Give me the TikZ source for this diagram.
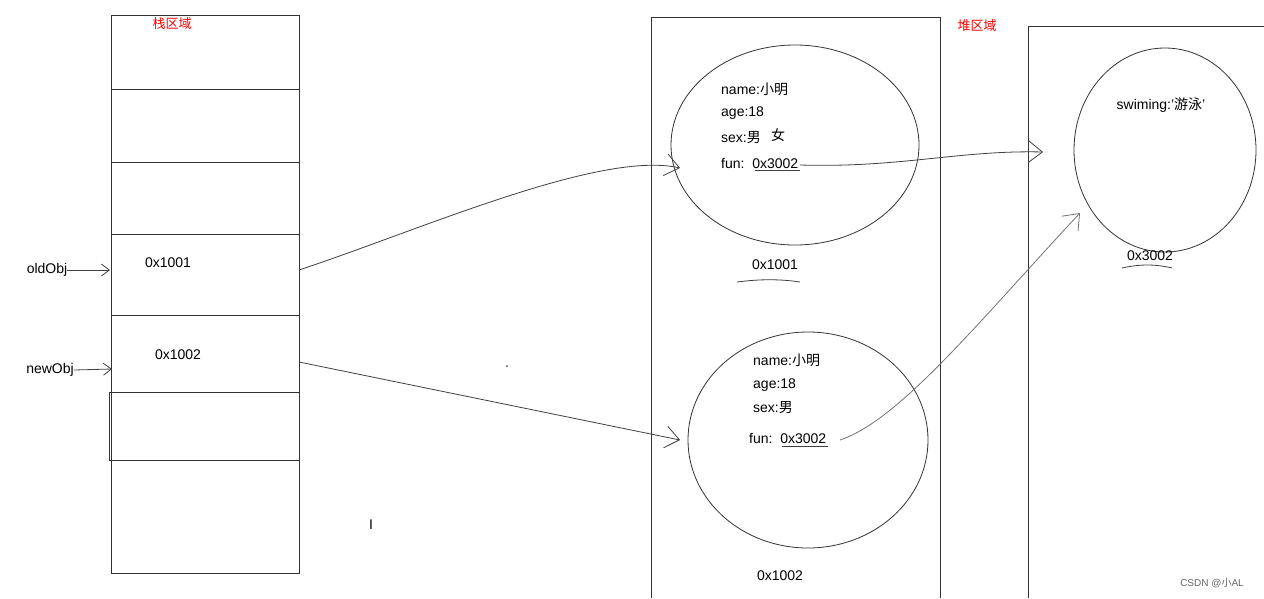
\documentclass[tikz,border=0pt]{standalone}
\usepackage{fontspec}
\setmainfont{Liberation Sans}
\newfontfamily\cjk{Noto Sans CJK SC}
\usetikzlibrary{arrows.meta}
\begin{document}
\begin{tikzpicture}[x=1pt,y=-1pt,
  box/.style={draw=black!80,line width=0.8pt},
  txt/.style={inner sep=0pt,font=\fontsize{14}{16}\selectfont},
  red/.style={inner sep=0pt,text=red,font=\cjk\fontsize{13}{15}\selectfont},
  conn/.style={draw=black!75,line width=0.8pt,-{Straight Barb[length=14pt,width=22pt,line width=0.8pt]}},
  ul/.style={draw=black!75,line width=0.8pt}]
\useasboundingbox[fill=white] (0,0) rectangle (1264,598);
% stack
\draw[box] (111,15) rectangle (299,573);
\foreach \y in {89,162,234,315,460} \draw[box] (111,\y) -- (299,\y);
\draw[box] (109,392) -- (299,392);
\draw[box] (109,392) -- (109,460) -- (111,460);
\node[red] (stk) at (172,24) {栈区域};
\node[txt] (old) at (47,270) {oldObj};
\node[txt] (new) at (50,370) {newObj};
\coordinate (olde) at (110,270);
\coordinate (newe) at (112,369);
\draw[draw=black!75,line width=0.8pt,-{Straight Barb[length=8pt,width=12pt,line width=0.8pt]}] (old.east) -- (olde);
\draw[draw=black!75,line width=0.8pt,-{Straight Barb[length=8pt,width=12pt,line width=0.8pt]}] (new.east) -- (newe);
\node[txt] (a1) at (168,263) {0x1001};
\node[txt] (a2) at (178,355) {0x1002};
% heap
\draw[box] (651,17) -- (651,598) (940,598) -- (940,17) -- (651,17);
\node[red] (hp) at (977,26) {堆区域};
\draw[box] (1028,598) -- (1028,26) -- (1264,26);
% ellipse 1
\draw[box] (795,145) ellipse [x radius=124,y radius=100];
\node[txt,anchor=west] (n1) at (721,89) {name:{\cjk 小明}};
\node[txt,anchor=west] (g1) at (721,113) {age:18};
\node[txt,anchor=west] (s1) at (721,138) {sex:{\cjk 男}};
\node[txt] (f1x) at (778,135) {\cjk 女};
\node[txt,anchor=west] (f1) at (721,163) {fun:\ \ 0x3002};
\draw[ul] (755,170) -- (800,170);
\node[txt] (e1) at (775,265) {0x1001};
\draw[ul] (737,282) .. controls (760,279) and (780,279) .. (800,282);
% ellipse 2
\draw[box] (808,440) ellipse [x radius=120,y radius=108];
\node[txt,anchor=west] (n2) at (753,360) {name:{\cjk 小明}};
\node[txt,anchor=west] (g2) at (753,385) {age:18};
\node[txt,anchor=west] (s2) at (753,408) {sex:{\cjk 男}};
\node[txt,anchor=west] (f2) at (749,438) {fun:\ \ 0x3002};
\draw[ul] (782,446) -- (828,446);
\node[txt] (e2) at (780,576) {0x1002};
% ellipse 3
\draw[box] (1165,150) ellipse [x radius=91,y radius=102];
\node[txt] (sw) at (1161,105) {swiming:'{\cjk 游泳}'};
\node[txt] (e3) at (1150,256) {0x3002};
\draw[ul] (1122,268) .. controls (1140,264) and (1155,264) .. (1172,268);
% connectors
\coordinate (p1) at (299,270);
\coordinate (q1) at (680,168);
\coordinate (p2) at (299,362);
\coordinate (q2) at (680,440);
\coordinate (p3) at (800,165);
\coordinate (q3) at (1043,152);
\coordinate (p4) at (840,440);
\coordinate (q4) at (1080,213);
\draw[conn] (p1) .. controls (420,230) and (600,150) .. (q1);
\draw[conn] (p2) -- (q2);
\draw[conn] (p3) .. controls (900,168) and (960,150) .. (q3);
\draw[conn,draw=black!55] (p4) .. controls (900,420) and (980,320) .. (q4);
% misc
\node[txt] (cur) at (371,525) {I};
\fill[black!70] (507,366) circle (1pt);
\node[inner sep=0pt,text=black!60,font=\fontsize{10}{12}\selectfont] (wm) at (1212,583) {CSDN @{\cjk 小}AL};
\end{tikzpicture}
\end{document}
